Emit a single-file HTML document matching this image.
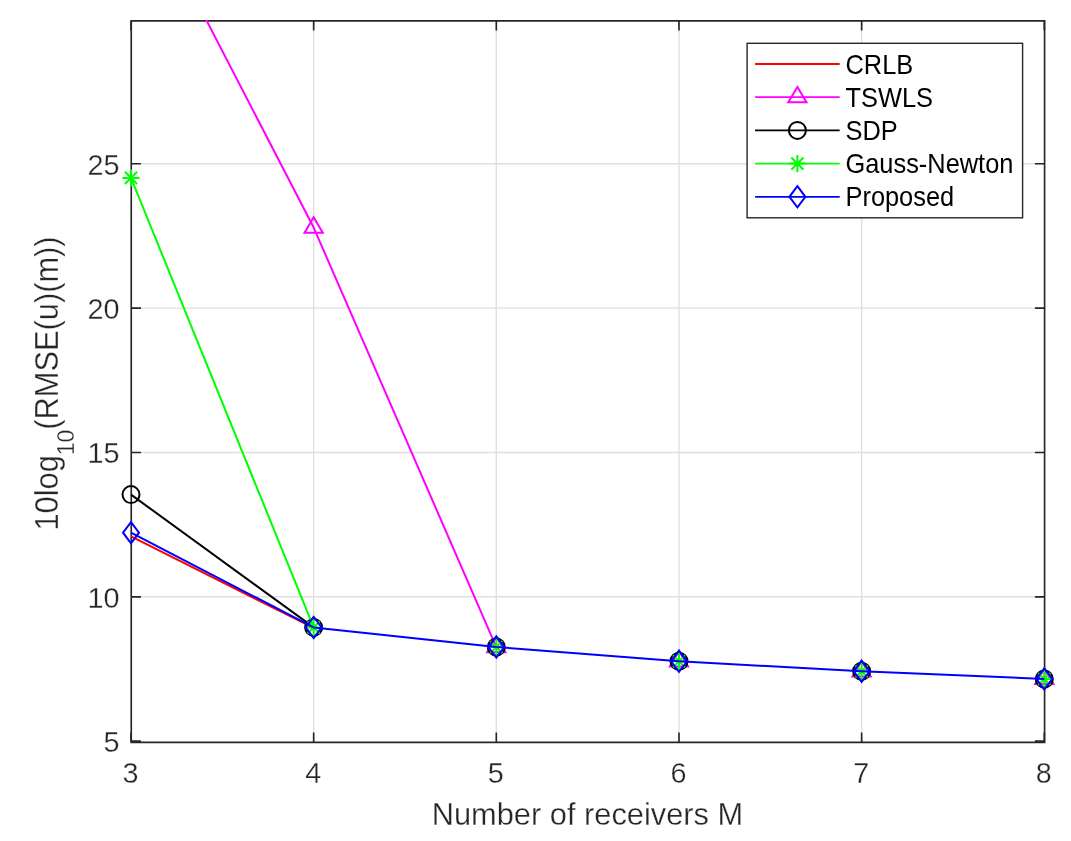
<!DOCTYPE html>
<html><head><meta charset="utf-8"><style>
html,body{margin:0;padding:0;background:#fff;}
body{width:1071px;height:841px;overflow:hidden;}
svg{display:block;}
text{font-family:"Liberation Sans", Arial, Helvetica, sans-serif;fill:#262626;stroke:#fff;stroke-width:0.3px;}
</style></head><body>
<svg width="1071" height="841" viewBox="0 0 1071 841">
<defs><clipPath id="clip"><rect x="110" y="20.00" width="960" height="722.30"/></clipPath></defs>
<rect x="0" y="0" width="1071" height="841" fill="#fff"/>
<path d="M313.66,20.80V742.30M496.32,20.80V742.30M678.98,20.80V742.30M861.64,20.80V742.30M131.25,596.80H1044.60M131.25,452.45H1044.60M131.25,308.10H1044.60M131.25,163.75H1044.60" stroke="#dfdfdf" stroke-width="1.4" fill="none"/>
<path d="M131.00,742.3V732.60M131.00,20.8V30.50M313.66,742.3V732.60M313.66,20.8V30.50M496.32,742.3V732.60M496.32,20.8V30.50M678.98,742.3V732.60M678.98,20.8V30.50M861.64,742.3V732.60M861.64,20.8V30.50M1044.30,742.3V732.60M1044.30,20.8V30.50M131.25,741.15H140.95M1044.6,741.15H1034.90M131.25,596.80H140.95M1044.6,596.80H1034.90M131.25,452.45H140.95M1044.6,452.45H1034.90M131.25,308.10H140.95M1044.6,308.10H1034.90M131.25,163.75H140.95M1044.6,163.75H1034.90" stroke="#262626" stroke-width="1.65" fill="none"/>
<path d="M131.25,20.8H1044.6V742.3H131.25Z" stroke="#262626" stroke-width="1.65" fill="none" stroke-linecap="square"/>
<polyline points="131.00,536.46 313.66,627.98" fill="none" stroke="#ff0000" stroke-width="2.0" stroke-linejoin="round" clip-path="url(#clip)"/>
<polyline points="131.00,-125.53 313.66,227.55 496.32,647.03" fill="none" stroke="#ff00ff" stroke-width="2.0" stroke-linejoin="round" clip-path="url(#clip)"/>
<polygon points="313.66,217.25 304.56,232.70 322.76,232.70" fill="none" stroke="#ff00ff" stroke-width="2.0" stroke-linejoin="miter"/>
<polygon points="496.32,636.73 487.22,652.18 505.42,652.18" fill="none" stroke="#ff00ff" stroke-width="2.0" stroke-linejoin="miter"/>
<polygon points="678.98,651.02 669.88,666.47 688.08,666.47" fill="none" stroke="#ff00ff" stroke-width="2.0" stroke-linejoin="miter"/>
<polygon points="861.64,660.98 852.54,676.43 870.74,676.43" fill="none" stroke="#ff00ff" stroke-width="2.0" stroke-linejoin="miter"/>
<polygon points="1044.30,668.64 1035.20,684.09 1053.40,684.09" fill="none" stroke="#ff00ff" stroke-width="2.0" stroke-linejoin="miter"/>
<polyline points="131.00,494.60 313.66,627.40" fill="none" stroke="#000000" stroke-width="2.0" stroke-linejoin="round" clip-path="url(#clip)"/>
<circle cx="131.00" cy="494.60" r="8.5" fill="none" stroke="#000000" stroke-width="2.0"/>
<circle cx="313.66" cy="627.40" r="8.5" fill="none" stroke="#000000" stroke-width="2.0"/>
<circle cx="496.32" cy="647.03" r="8.5" fill="none" stroke="#000000" stroke-width="2.0"/>
<circle cx="678.98" cy="661.32" r="8.5" fill="none" stroke="#000000" stroke-width="2.0"/>
<circle cx="861.64" cy="671.28" r="8.5" fill="none" stroke="#000000" stroke-width="2.0"/>
<circle cx="1044.30" cy="678.94" r="8.5" fill="none" stroke="#000000" stroke-width="2.0"/>
<polyline points="131.00,177.90 313.66,627.40" fill="none" stroke="#00ff00" stroke-width="2.0" stroke-linejoin="round" clip-path="url(#clip)"/>
<path d="M122.40,177.90H139.60M131.00,169.30V186.50M124.92,171.82L137.08,183.98M124.92,183.98L137.08,171.82" fill="none" stroke="#00ff00" stroke-width="2.0"/>
<path d="M305.06,627.40H322.26M313.66,618.80V636.00M307.58,621.32L319.74,633.48M307.58,633.48L319.74,621.32" fill="none" stroke="#00ff00" stroke-width="2.0"/>
<path d="M487.72,647.03H504.92M496.32,638.43V655.63M490.24,640.95L502.40,653.11M490.24,653.11L502.40,640.95" fill="none" stroke="#00ff00" stroke-width="2.0"/>
<path d="M670.38,661.32H687.58M678.98,652.72V669.92M672.90,655.24L685.06,667.40M672.90,667.40L685.06,655.24" fill="none" stroke="#00ff00" stroke-width="2.0"/>
<path d="M853.04,671.28H870.24M861.64,662.68V679.88M855.56,665.20L867.72,677.36M855.56,677.36L867.72,665.20" fill="none" stroke="#00ff00" stroke-width="2.0"/>
<path d="M1035.70,678.94H1052.90M1044.30,670.34V687.54M1038.22,672.85L1050.38,685.02M1038.22,685.02L1050.38,672.85" fill="none" stroke="#00ff00" stroke-width="2.0"/>
<polyline points="131.00,532.71 313.66,627.40 496.32,647.03 678.98,661.32 861.64,671.28 1044.30,678.94" fill="none" stroke="#0000ff" stroke-width="2.0" stroke-linejoin="round" clip-path="url(#clip)"/>
<polygon points="131.00,522.11 139.00,532.71 131.00,543.31 123.00,532.71" fill="none" stroke="#0000ff" stroke-width="2.0"/>
<polygon points="313.66,616.80 321.66,627.40 313.66,638.00 305.66,627.40" fill="none" stroke="#0000ff" stroke-width="2.0"/>
<polygon points="496.32,636.43 504.32,647.03 496.32,657.63 488.32,647.03" fill="none" stroke="#0000ff" stroke-width="2.0"/>
<polygon points="678.98,650.72 686.98,661.32 678.98,671.92 670.98,661.32" fill="none" stroke="#0000ff" stroke-width="2.0"/>
<polygon points="861.64,660.68 869.64,671.28 861.64,681.88 853.64,671.28" fill="none" stroke="#0000ff" stroke-width="2.0"/>
<polygon points="1044.30,668.34 1052.30,678.94 1044.30,689.54 1036.30,678.94" fill="none" stroke="#0000ff" stroke-width="2.0"/>
<text transform="translate(130.50,783.30) scale(1,1.02)" font-size="28.8" text-anchor="middle">3</text>
<text transform="translate(313.16,783.30) scale(1,1.02)" font-size="28.8" text-anchor="middle">4</text>
<text transform="translate(495.82,783.30) scale(1,1.02)" font-size="28.8" text-anchor="middle">5</text>
<text transform="translate(678.48,783.30) scale(1,1.02)" font-size="28.8" text-anchor="middle">6</text>
<text transform="translate(861.14,783.30) scale(1,1.02)" font-size="28.8" text-anchor="middle">7</text>
<text transform="translate(1043.80,783.30) scale(1,1.02)" font-size="28.8" text-anchor="middle">8</text>
<text transform="translate(119.40,752.15) scale(1,1.02)" font-size="28.8" text-anchor="end">5</text>
<text transform="translate(119.40,607.80) scale(1,1.02)" font-size="28.8" text-anchor="end">10</text>
<text transform="translate(119.40,463.45) scale(1,1.02)" font-size="28.8" text-anchor="end">15</text>
<text transform="translate(119.40,319.10) scale(1,1.02)" font-size="28.8" text-anchor="end">20</text>
<text transform="translate(119.40,174.75) scale(1,1.02)" font-size="28.8" text-anchor="end">25</text>
<text transform="translate(587.42,824.60) scale(1,1.045)" font-size="30.8" text-anchor="middle">Number of receivers M</text>
<text transform="translate(57.6,383.5) rotate(-90) scale(1,1.08)" font-size="30.8" text-anchor="middle">10log<tspan font-size="23" dy="14.81">10</tspan><tspan dy="-14.81">(RMSE(u)(m))</tspan></text>
<rect x="747.1" y="43.3" width="275.50" height="174.50" fill="#fff" stroke="#262626" stroke-width="1.4"/>
<path d="M755.1,64.00H839.7" stroke="#ff0000" stroke-width="1.8"/>
<text transform="translate(845.50,73.60) scale(1,1.08)" font-size="25.4" text-anchor="start" style="fill:#000;stroke-width:0px">CRLB</text>
<path d="M755.1,97.20H839.7" stroke="#ff00ff" stroke-width="1.8"/>
<polygon points="797.40,86.90 788.30,102.35 806.50,102.35" fill="none" stroke="#ff00ff" stroke-width="2.0" stroke-linejoin="miter"/>
<text transform="translate(845.50,106.80) scale(1,1.08)" font-size="25.4" text-anchor="start" style="fill:#000;stroke-width:0px">TSWLS</text>
<path d="M755.1,130.40H839.7" stroke="#000000" stroke-width="1.8"/>
<circle cx="797.40" cy="130.40" r="8.5" fill="none" stroke="#000000" stroke-width="2.0"/>
<text transform="translate(845.50,140.00) scale(1,1.08)" font-size="25.4" text-anchor="start" style="fill:#000;stroke-width:0px">SDP</text>
<path d="M755.1,163.60H839.7" stroke="#00ff00" stroke-width="1.8"/>
<path d="M788.80,163.60H806.00M797.40,155.00V172.20M791.32,157.52L803.48,169.68M791.32,169.68L803.48,157.52" fill="none" stroke="#00ff00" stroke-width="2.0"/>
<text transform="translate(845.50,173.20) scale(1,1.08)" font-size="25.4" text-anchor="start" style="fill:#000;stroke-width:0px">Gauss-Newton</text>
<path d="M755.1,196.80H839.7" stroke="#0000ff" stroke-width="1.8"/>
<polygon points="797.40,186.20 805.40,196.80 797.40,207.40 789.40,196.80" fill="none" stroke="#0000ff" stroke-width="2.0"/>
<text transform="translate(845.50,206.40) scale(1,1.08)" font-size="25.4" text-anchor="start" style="fill:#000;stroke-width:0px">Proposed</text>
</svg></body></html>
